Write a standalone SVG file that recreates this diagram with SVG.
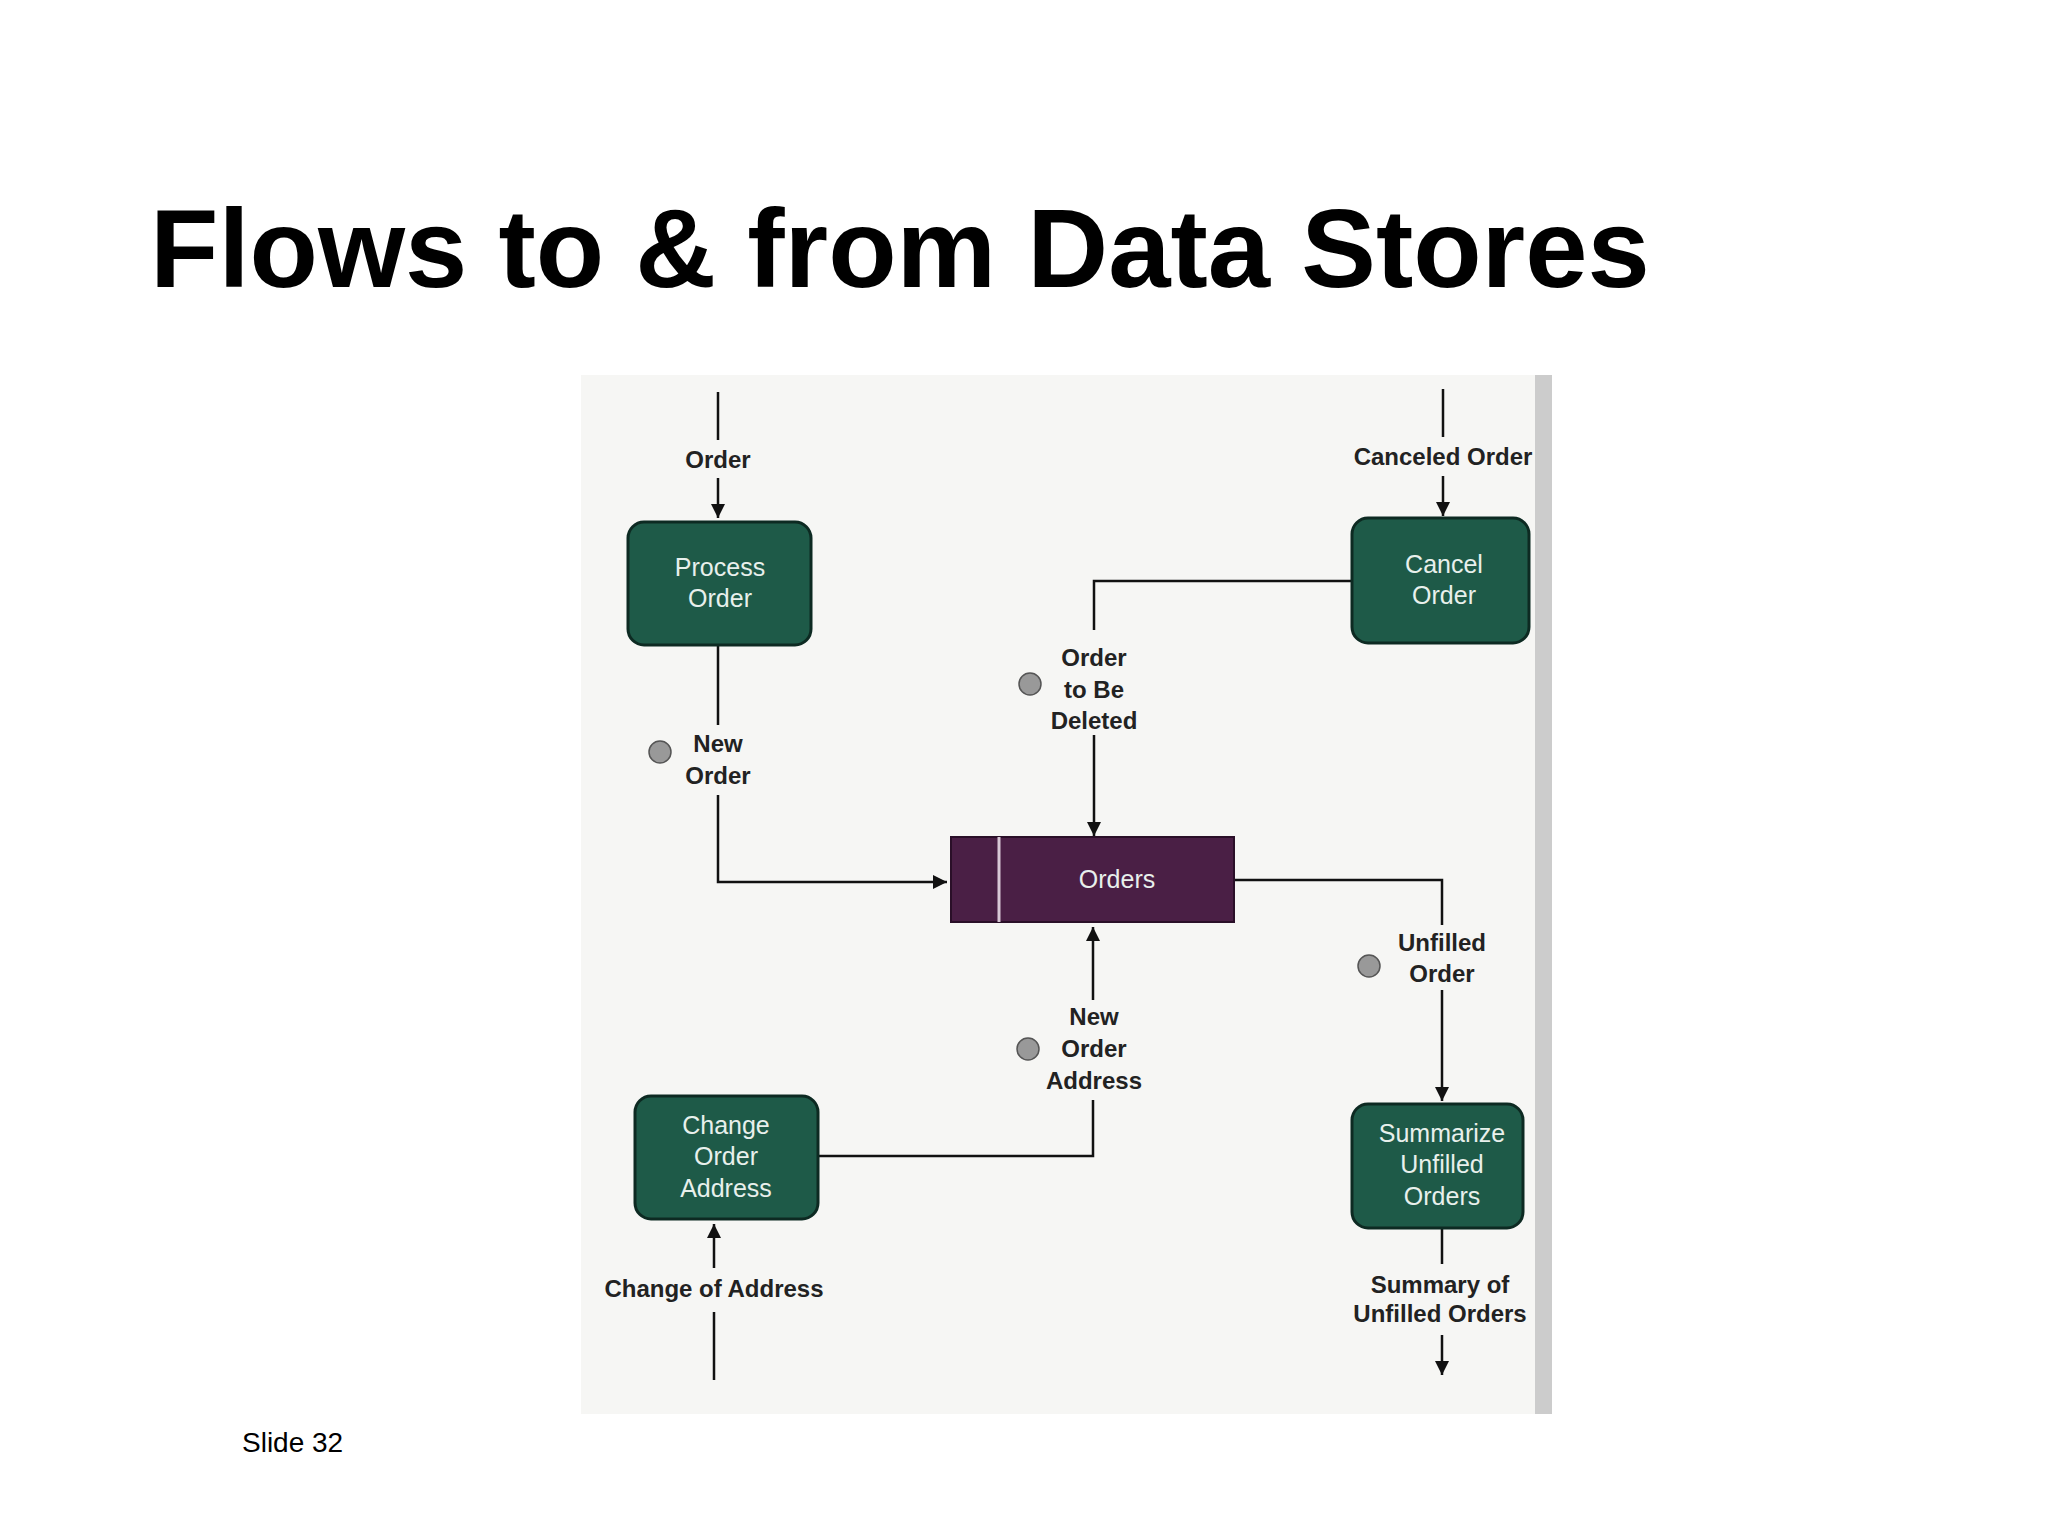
<svg xmlns="http://www.w3.org/2000/svg" width="2048" height="1536" viewBox="0 0 2048 1536">
<defs>
<marker id="ah" viewBox="0 0 10 10" refX="10" refY="5" markerWidth="16" markerHeight="14" orient="auto" markerUnits="userSpaceOnUse"><path d="M0,0 L10,5 L0,10 z" fill="#111"/></marker>
<style>
.p{fill:#1e5a48;stroke:#0d2a22;stroke-width:3}
.pt{font-family:"Liberation Sans",Arial,sans-serif;font-size:25px;fill:#e8f0ec;text-anchor:middle}
.lb{font-family:"Liberation Sans",Arial,sans-serif;font-size:24px;font-weight:bold;fill:#222;text-anchor:middle}
.c line,.c path{stroke:#111;stroke-width:2.5;fill:none}
.bd{fill:#999;stroke:#555;stroke-width:1.5}
</style>
</defs>
<rect width="2048" height="1536" fill="#fff"/>
<text x="150" y="287" font-family="Liberation Sans,Arial,sans-serif" font-weight="bold" font-size="112" fill="#000">Flows to &amp; from Data Stores</text>
<rect x="581" y="375" width="971" height="1039" fill="#f6f6f4"/>
<rect x="1535" y="375" width="17" height="1039" fill="#ccc"/>
<g class="c">
<line x1="718" y1="392" x2="718" y2="440"/><line x1="718" y1="478" x2="718" y2="518" marker-end="url(#ah)"/>
<line x1="1443" y1="389" x2="1443" y2="437"/><line x1="1443" y1="476" x2="1443" y2="516" marker-end="url(#ah)"/>
<path d="M718,645 V725 M718,795 V882 H947" marker-end="url(#ah)"/>
<path d="M1352,581 H1094 V630 M1094,735 V836" marker-end="url(#ah)"/>
<path d="M1234,880 H1442 V925 M1442,990 V1101" marker-end="url(#ah)"/>
<path d="M818,1156 H1093 V1100 M1093,1000 V927" marker-end="url(#ah)"/>
<path d="M714,1380 V1312 M714,1268 V1224" marker-end="url(#ah)"/>
<path d="M1442,1228 V1264 M1442,1335 V1375" marker-end="url(#ah)"/>
</g>
<g id="labels">
<text class="lb" x="718" y="468">Order</text>
<text class="lb" x="1443" y="465">Canceled Order</text>
<text class="lb" x="718" y="752">New</text><text class="lb" x="718" y="784">Order</text>
<text class="lb" x="1094" y="666">Order</text><text class="lb" x="1094" y="698">to Be</text><text class="lb" x="1094" y="729">Deleted</text>
<text class="lb" x="1442" y="951">Unfilled</text><text class="lb" x="1442" y="982">Order</text>
<text class="lb" x="1094" y="1025">New</text><text class="lb" x="1094" y="1057">Order</text><text class="lb" x="1094" y="1089">Address</text>
<text class="lb" x="714" y="1297">Change of Address</text>
<text class="lb" x="1440" y="1293">Summary of</text><text class="lb" x="1440" y="1322">Unfilled Orders</text>
<circle class="bd" cx="660" cy="752" r="11"/><circle class="bd" cx="1030" cy="684" r="11"/>
<circle class="bd" cx="1369" cy="966" r="11"/><circle class="bd" cx="1028" cy="1049" r="11"/>
</g>
<g id="process-order"><rect class="p" x="628" y="522" width="183" height="123" rx="16"/><text class="pt" x="720" y="576">Process</text><text class="pt" x="720" y="607">Order</text></g>
<g id="cancel-order"><rect class="p" x="1352" y="518" width="177" height="125" rx="16"/><text class="pt" x="1444" y="573">Cancel</text><text class="pt" x="1444" y="604">Order</text></g>
<g id="orders"><rect x="951" y="837" width="283" height="85" fill="#4a1f45" stroke="#2a0f28" stroke-width="2"/><line x1="999" y1="837" x2="999" y2="922" stroke="#d8c8d6" stroke-width="3"/><text class="pt" x="1117" y="888">Orders</text></g>
<g id="change-order-address"><rect class="p" x="635" y="1096" width="183" height="123" rx="16"/><text class="pt" x="726" y="1134">Change</text><text class="pt" x="726" y="1165">Order</text><text class="pt" x="726" y="1197">Address</text></g>
<g id="summarize"><rect class="p" x="1352" y="1104" width="171" height="124" rx="16"/><text class="pt" x="1442" y="1142">Summarize</text><text class="pt" x="1442" y="1173">Unfilled</text><text class="pt" x="1442" y="1205">Orders</text></g>
<text x="242" y="1452" font-family="Liberation Sans,Arial,sans-serif" font-size="28" fill="#000">Slide 32</text>
</svg>
